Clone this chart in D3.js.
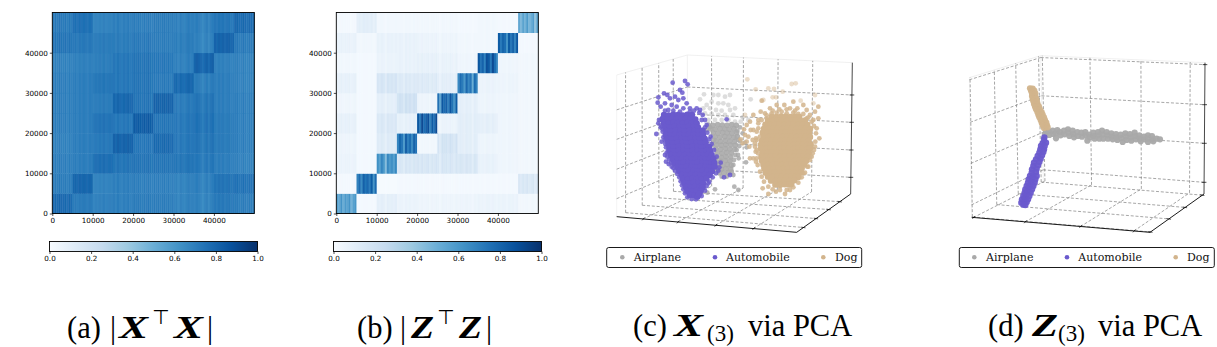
<!DOCTYPE html>
<html>
<head>
<meta charset="utf-8">
<script src="https://cdn.jsdelivr.net/npm/d3@7"></script>
<style>
    html, body { margin: 0; padding: 0; background: #fff; }
    svg { display: block; }
    .axis text { font-family: "DejaVu Sans", sans-serif; font-size: 7.2px; fill: #000; }
    .axis path, .axis line { stroke: #000; stroke-width: 0.7px; }
    .legend text { font-family: "DejaVu Serif", serif; font-size: 11px; fill: #111; }
    .caption text { font-family: "Liberation Serif", serif; font-size: 30.5px; fill: #000; }
</style>
</head>
<body>
<svg id="chart" width="1217" height="347"></svg>
<script>
// ---- data ----
const classes = ["Airplane", "Automobile", "Dog"];
const classColors = ["#a9a9a9", "#6a5acd", "#d2b48c"];
const heatTicks = [0, 10000, 20000, 30000, 40000];
const barTicks = [0, 0.2, 0.4, 0.6, 0.8, 1.0];

// block means, bottom row first, each block = 5000 samples
const matrixX = [
    [.78,.71,.70,.70,.71,.71,.69,.69,.72,.71],
    [.71,.79,.69,.70,.70,.70,.69,.70,.74,.75],
    [.70,.70,.77,.74,.74,.74,.74,.73,.70,.69],
    [.69,.70,.73,.81,.73,.78,.73,.74,.71,.70],
    [.70,.70,.75,.73,.83,.74,.73,.75,.71,.70],
    [.70,.70,.72,.79,.74,.81,.72,.74,.70,.70],
    [.70,.70,.74,.73,.74,.72,.79,.71,.70,.69],
    [.69,.69,.71,.73,.74,.73,.70,.81,.69,.69],
    [.74,.72,.72,.71,.72,.71,.71,.69,.80,.72],
    [.72,.75,.69,.70,.70,.71,.70,.70,.73,.78]
];
const matrixZ = [
    [.56,.02,.09,.06,.05,.05,.05,.06,.06,.03],
    [.02,.74,.01,.02,.02,.02,.02,.02,.02,.15],
    [.06,.02,.60,.15,.16,.16,.15,.07,.04,.03],
    [.05,.02,.12,.73,.03,.18,.10,.05,.04,.03],
    [.08,.02,.14,.08,.80,.06,.10,.09,.04,.03],
    [.04,.02,.09,.19,.05,.77,.09,.05,.04,.03],
    [.08,.02,.16,.13,.13,.10,.70,.06,.05,.03],
    [.03,.02,.06,.07,.08,.07,.04,.80,.04,.03],
    [.07,.03,.07,.07,.06,.05,.03,.03,.76,.02],
    [.02,.10,.03,.03,.03,.03,.02,.03,.02,.52]
];
// column brightness factor, one per 500 samples
const stripesX = [
    .99,1.01,.98,1.02,1.0,.99,1.01,.97,1.01,.98,1.0,1.01,.98,1.01,.99,1.01,1.0,.98,1.01,1.0,
    .96,.98,.97,.99,.97,1.0,.97,.98,.99,.98,1.0,.97,1.01,.98,.97,1.0,.98,1.01,.98,.99,
    1.01,.99,1.01,1.0,.98,1.01,.99,1.02,1.0,.98,1.01,.99,1.01,.98,1.0,1.01,.98,1.01,.97,.99,
    .98,1.0,.95,1.0,.97,.96,.99,1.01,.98,1.0,.98,1.01,.99,.97,.93,.97,1.0,.95,.99,1.01,
    1.0,.98,1.01,.99,1.01,.98,1.0,1.01,.98,.99,1.0,1.01,.98,.98,1.01,.99,.97,1.0,.98,.97
];
const stripesZ = [
    1.0,.94,1.1,.9,1.05,.98,1.1,.85,1.0,1.08,.92,1.04,.88,1.1,1.0,1.06,.95,1.12,.82,1.05,
    1.05,.92,1.12,1.0,.72,1.1,.98,1.06,.94,1.1,.92,1.08,1.0,.8,1.12,.96,1.05,.9,1.1,1.02,
    1.06,.9,1.12,.95,1.02,1.1,.85,1.04,.94,1.12,.98,.7,1.1,1.0,1.06,.9,1.12,.96,.8,1.08,
    .94,1.1,1.02,.86,1.12,.95,1.05,.72,1.1,.98,1.08,.92,1.0,.85,1.1,1.05,.9,1.12,.96,.84,
    1.1,.94,1.05,1.0,.82,1.1,.96,1.06,.9,1.12,1.02,.88,1.06,.94,1.12,.9,.98,1.1,.78,1.05
];

// points (panel units)
const airplaneCFar = [[330,178],[342,163],[370,165],[385,165],[405,170],[420,165],[482,178],[365,185],[385,190],[400,190],[415,195],[350,195],[340,205],[360,205],[378,210],[395,212],[420,210],[435,205],[345,220],[365,222],[385,225],[405,225],[430,225],[458,232],[475,240],[452,245],[355,240],[375,240],[395,240],[415,240],[435,245]];
const airplaneCOut = [[375,448],[433,440],[445,450],[352,458],[430,405],[465,308],[470,322],[444,345],[446,355],[468,367],[450,303],[448,318],[445,300],[440,330],[436,345],[432,360],[430,375],[372,300],[368,315],[425,395],[395,410],[410,410],[350,270],[360,262],[450,262],[458,280],[442,272]];
const airplaneC = [
    [355,255],[369,256],[383,254],[397,255],[411,256],[425,254],[439,256],
    [362,267],[376,268],[390,266],[404,267],[418,268],[432,266],
    [370,279],[384,280],[398,278],[412,279],[426,280],[440,278],
    [376,291],[390,292],[404,290],[418,291],[432,292],[442,290],
    [378,303],[392,304],[406,302],[420,303],[434,304],
    [380,315],[394,316],[408,314],[422,315],[436,316],
    [378,327],[392,328],[406,326],[420,327],[434,328],
    [382,339],[396,340],[410,338],[424,339],
    [380,351],[394,352],[408,350],[422,351],
    [378,363],[392,364],[406,362],[420,363],
    [384,375],[398,376],[412,374],[424,376],
    [380,387],[394,388],[408,386],[422,387],
    [388,399],[402,400],[416,398]
];
const automobileCOut = [[248,128],[285,123],[293,133],[222,160],[232,165],[205,172],[203,188],[212,200],[270,150],[277,158],[255,170],[240,175],[265,180],[280,175],[225,190],[245,195],[290,190],[260,200],[280,205],[300,205],[320,205],[235,210],[225,212],[250,212],[270,215],[300,215],[199,282],[207,240],[205,250],[215,305],[228,365],[245,380],[410,238],[402,412],[420,405],[385,392],[355,430],[330,445],[218,275],[225,345],[236,372],[212,262],[338,225],[350,255],[362,290],
    [216,240],[214,258],[218,268],[220,292],[224,300],[226,312],[228,322],[230,338],[232,350],[238,358],[243,368],[250,384],[255,392],[262,402],[268,412],[272,424],[276,436],[280,448],[285,460],[292,472],[305,477],[318,478],[335,468],[345,452],[350,438],[358,425],[368,412],[378,400],[388,382],[392,368],[380,350],[372,330],[365,312],[358,298],[352,278],[345,262],[335,240],[328,218],[312,212],[345,240],[330,210]];
const automobileC = [
    [222,225],[236,226],[250,224],[264,225],[278,226],[292,224],[306,225],
    [218,237],[232,238],[246,236],[260,237],[274,238],[288,236],[302,237],[316,238],
    [222,249],[236,250],[250,248],[264,249],[278,250],[292,248],[306,249],[320,250],
    [226,261],[240,262],[254,260],[268,261],[282,262],[296,260],[310,261],[324,262],
    [229,273],[243,274],[257,272],[271,273],[285,274],[299,272],[313,273],[327,274],[338,272],
    [227,285],[241,286],[255,284],[269,285],[283,286],[297,284],[311,285],[325,286],[339,284],
    [232,297],[246,298],[260,296],[274,297],[288,298],[302,296],[316,297],[330,298],[344,296],
    [235,309],[249,310],[263,308],[277,309],[291,310],[305,308],[319,309],[333,310],[347,308],
    [238,321],[252,322],[266,320],[280,321],[294,322],[308,320],[322,321],[336,322],[350,320],[357,321],
    [238,333],[252,334],[266,332],[280,333],[294,334],[308,332],[322,333],[336,334],[350,332],[360,333],
    [242,345],[256,346],[270,344],[284,345],[298,346],[312,344],[326,345],[340,346],[354,344],[365,345],
    [248,357],[262,358],[276,356],[290,357],[304,358],[318,356],[332,357],[346,358],[360,356],[370,357],
    [253,369],[267,370],[281,368],[295,369],[309,370],[323,368],[337,369],[351,370],[365,368],[373,369],
    [262,381],[276,382],[290,380],[304,381],[318,382],[332,380],[346,381],[360,382],[374,380],
    [268,393],[282,394],[296,392],[310,393],[324,394],[338,392],[352,393],[366,394],
    [275,405],[289,406],[303,404],[317,405],[331,406],[345,404],[359,405],
    [279,417],[293,418],[307,416],[321,417],[335,418],[349,416],
    [283,429],[297,430],[311,428],[325,429],[339,430],
    [287,441],[301,442],[315,440],[329,441],[338,442],
    [292,453],[306,454],[320,452],[332,453],
    [300,465],[313,466],[322,470],[327,462]
];
const dogCFar = [[472,118],[497,148],[535,145],[552,147],[578,155],[605,132],[617,130],[465,225],[520,180],[548,172],[558,172],[632,182],[675,165],[670,190]];
const dogCOut = [[515,182],[583,195],[610,185],[640,195],[685,200],[675,215],[685,235],[670,240],[512,215],[525,220],[490,225],[505,240],[540,205],[560,195],[600,205],[622,205],[650,210],[660,225],[480,245],[470,255],[462,268],[490,270],[505,265],[475,290],[488,300],[458,310],[510,290],[495,320],[452,298],[490,355],[480,355],[498,365],[518,445],[535,462],[558,455],[585,462],[600,450],[680,265],[688,295],[675,320],[665,350],[655,380],[640,400],[575,215],[590,220],[610,218],[560,218],[545,220],[625,222],[530,235],[500,300],[504,340],[650,235],
    [505,250],[500,275],[498,295],[495,310],[497,335],[500,355],[503,375],[510,395],[515,410],[522,425],[535,440],[548,448],[570,450],[590,450],[610,442],[625,428],[635,412],[645,398],[652,380],[660,360],[668,340],[672,330],[676,305],[678,280],[672,258],[665,245],[655,232],[640,222],[615,212],[590,208],[568,208],[548,212],[530,226],[515,240],[482,270],[465,285],[478,320],[470,305],[500,330]];
const dogC = [
    [545,230],[559,231],[573,229],[587,230],[601,231],[615,229],[628,231],
    [534,242],[548,243],[562,241],[576,242],[590,243],[604,241],[618,242],[632,243],[645,241],
    [526,254],[540,255],[554,253],[568,254],[582,255],[596,253],[610,254],[624,255],[638,253],[652,254],
    [522,266],[536,267],[550,265],[564,266],[578,267],[592,265],[606,266],[620,267],[634,265],[648,266],[660,267],
    [518,278],[532,279],[546,277],[560,278],[574,279],[588,277],[602,278],[616,279],[630,277],[644,278],[658,279],
    [522,290],[536,291],[550,289],[564,290],[578,291],[592,289],[606,290],[620,291],[634,289],[648,290],[660,291],
    [516,302],[530,303],[544,301],[558,302],[572,303],[586,301],[600,302],[614,303],[628,301],[642,302],[656,303],
    [513,314],[527,315],[541,313],[555,314],[569,315],[583,313],[597,314],[611,315],[625,313],[639,314],[653,315],[662,313],
    [513,326],[527,327],[541,325],[555,326],[569,327],[583,325],[597,326],[611,327],[625,325],[639,326],[653,327],[660,325],
    [518,338],[532,339],[546,337],[560,338],[574,339],[588,337],[602,338],[616,339],[630,337],[644,338],[656,339],
    [514,350],[528,351],[542,349],[556,350],[570,351],[584,349],[598,350],[612,351],[626,349],[640,350],[653,351],
    [516,362],[530,363],[544,361],[558,362],[572,363],[586,361],[600,362],[614,363],[628,361],[642,362],[648,363],
    [520,374],[534,375],[548,373],[562,374],[576,375],[590,373],[604,374],[618,375],[632,373],[642,374],
    [523,386],[537,387],[551,385],[565,386],[579,387],[593,385],[607,386],[621,387],[635,385],
    [527,398],[541,399],[555,397],[569,398],[583,399],[597,397],[611,398],[625,399],[632,397],
    [534,410],[548,411],[562,409],[576,410],[590,411],[604,409],[618,410],[625,411],
    [543,422],[557,423],[571,421],[585,422],[599,423],[613,421],
    [556,434],[570,435],[584,433],[598,434],[604,432]
];
const airplaneD = [[288,272],[285,283],[296,274],[298,285],[308,272],[310,282],[318,280],[318,295],[322,270],[330,276],[332,286],[342,272],[344,283],[354,268],[356,278],[358,288],[368,272],[370,282],[372,292],[382,276],[384,288],[394,278],[396,290],[406,276],[408,286],[412,302],[418,284],[420,292],[430,278],[432,288],[434,296],[444,276],[446,286],[448,296],[456,272],[458,284],[460,296],[470,276],[472,286],[474,296],[484,280],[486,290],[488,298],[498,282],[500,292],[502,300],[512,284],[514,294],[518,306],[526,280],[528,290],[530,300],[540,282],[542,292],[544,302],[554,278],[556,288],[558,298],[568,286],[570,296],[572,304],[582,290],[584,298],[594,286],[596,296],[594,306],[606,288],[608,298],[610,304],[620,296],[630,298]];
const automobileD = [[283,292],[282,300],[278,310],[288,308],[273,318],[284,318],[271,328],[282,328],[268,338],[280,336],[263,348],[276,346],[258,358],[272,356],[252,368],[268,366],[250,378],[264,376],[246,388],[260,386],[245,398],[258,396],[240,408],[250,406],[260,408],[236,418],[247,416],[256,418],[234,428],[244,426],[254,428],[230,438],[240,436],[250,438],[226,448],[236,446],[246,448],[224,458],[232,456],[242,458],[220,468],[228,466],[238,468],[216,478],[224,476],[234,478],[214,488],[222,488],[230,486],[220,494],[226,495]];
const dogD = [[240,145],[248,146],[243,152],[253,152],[246,160],[256,160],[246,168],[256,168],[248,176],[259,176],[250,184],[261,184],[252,192],[263,192],[255,200],[267,200],[258,208],[270,208],[262,216],[275,216],[265,224],[278,224],[268,232],[282,232],[272,240],[285,240],[275,248],[289,248],[278,256],[291,256],[282,264],[293,262]];

// ---- drawing ----
const svg = d3.select("#chart");
const blues = d3.scaleSequential(d3.piecewise(d3.interpolateRgb, d3.schemeBlues[9])).domain([0, 1]);

const defs = svg.append("defs");
// one gradient, both colorbars use it
const grad = defs.append("linearGradient").attr("id", "bluesGrad");
d3.range(0, 1.01, 0.125).forEach(function (t) {
    grad.append("stop").attr("offset", t).attr("stop-color", blues(t));
});
// the source picture is a soft raster, take the edge off the cells
defs.append("filter").attr("id", "soft")
    .attr("x", 0).attr("y", 0).attr("width", 1).attr("height", 1)
    .append("feGaussianBlur").attr("stdDeviation", 0.5);

function drawHeatmap(matrix, stripes, left, right, barLeft, barRight) {
    let top = 12.5, bottom = 213.5;
    let x = d3.scaleLinear().domain([0, 50000]).range([left, right]);
    let y = d3.scaleLinear().domain([0, 50000]).range([bottom, top]);
    let g = svg.append("g");
    let cells = g.append("g").attr("filter", "url(#soft)");

    matrix.forEach(function (row, r) {
        stripes.forEach(function (s, c) {
            let block = Math.floor(c / 10);
            cells.append("rect")
                .attr("x", x(c * 500))
                .attr("y", y((r + 1) * 5000))
                .attr("width", x(500) - x(0) + 0.4)
                .attr("height", y(0) - y(5000) + 0.4)
                .attr("fill", blues(Math.min(1, row[block] * s)));
        });
    });

    g.append("rect")
        .attr("x", left).attr("y", top)
        .attr("width", right - left).attr("height", bottom - top)
        .attr("fill", "none").attr("stroke", "#000").attr("stroke-width", 0.9);

    g.append("g").attr("class", "axis")
        .attr("transform", `translate(0,${bottom})`)
        .call(d3.axisBottom(x).tickValues(heatTicks).tickFormat(d3.format("d")).tickSize(2.5).tickPadding(2).tickSizeOuter(0))
        .select(".domain").remove();
    g.append("g").attr("class", "axis")
        .attr("transform", `translate(${left},0)`)
        .call(d3.axisLeft(y).tickValues(heatTicks).tickFormat(d3.format("d")).tickSize(2.5).tickPadding(2).tickSizeOuter(0))
        .select(".domain").remove();

    // colorbar
    let barX = d3.scaleLinear().domain([0, 1]).range([barLeft, barRight]);
    g.append("rect")
        .attr("x", barLeft).attr("y", 241.5)
        .attr("width", barRight - barLeft).attr("height", 10)
        .attr("fill", "url(#bluesGrad)")
        .attr("stroke", "#000").attr("stroke-width", 0.9);
    g.append("g").attr("class", "axis")
        .attr("transform", "translate(0,251.5)")
        .call(d3.axisBottom(barX).tickValues(barTicks).tickFormat(d3.format(".1f")).tickSize(2.5).tickPadding(2).tickSizeOuter(0))
        .select(".domain").remove();
}

// trilinear box, close enough to the mplot3d perspective
function boxProjector(c) {
    return function (u, v, w) {
        let lerp = function (a, b, t) { return [a[0] + (b[0] - a[0]) * t, a[1] + (b[1] - a[1]) * t]; };
        let bottom = lerp(lerp(c.fbl, c.fbr, u), lerp(c.bbl, c.bbr, u), v);
        let top = lerp(lerp(c.tfl, c.tfr, u), lerp(c.btl, c.btr, u), v);
        return lerp(bottom, top, w);
    };
}

function drawScatter(offsetX, offsetY, corners, ticks, layers, legendBox, legendItems) {
    let px = d3.scaleLinear().domain([0, 900]).range([offsetX, offsetX + 300]);
    let py = d3.scaleLinear().domain([0, 720]).range([offsetY, offsetY + 240]);
    let project = boxProjector(corners);
    let g = svg.append("g");
    let seg = function (a, b, color, width, dash) {
        g.append("line")
            .attr("x1", px(a[0])).attr("y1", py(a[1]))
            .attr("x2", px(b[0])).attr("y2", py(b[1]))
            .attr("stroke", color).attr("stroke-width", width)
            .attr("stroke-dasharray", dash || null);
    };

    // pane outlines, very faint
    seg(project(0, 0, 1), project(0, 1, 1), "#ececec", 0.8);
    seg(project(0, 1, 1), project(1, 1, 1), "#ececec", 0.8);
    seg(project(0, 1, 0), project(0, 1, 1), "#eeeeee", 0.8);
    seg(project(0, 0, 0), project(0, 0, 1), "#f2f2f2", 0.8);

    // grid
    let grid = "#7f7f7f", dash = "3,1.8";
    ticks.u.forEach(function (t) {
        seg(project(t, 0, 0), project(t, 1, 0), grid, 0.7, dash);
        seg(project(t, 1, 0), project(t, 1, 1), grid, 0.7, dash);
    });
    ticks.v.forEach(function (t) {
        seg(project(0, t, 0), project(1, t, 0), grid, 0.7, dash);
        seg(project(0, t, 0), project(0, t, 1), grid, 0.7, dash);
    });
    ticks.w.forEach(function (t) {
        seg(project(0, 0, t), project(0, 1, t), grid, 0.7, dash);
        seg(project(0, 1, t), project(1, 1, t), grid, 0.7, dash);
    });

    // black axes and tick marks
    seg(project(0, 0, 0), project(1, 0, 0), "#000", 0.9);
    seg(project(1, 0, 0), project(1, 1, 0), "#000", 0.9);
    seg(project(1, 1, 0), project(1, 1, 1), "#333", 0.9);
    ticks.u.forEach(function (t) {
        let p = project(t, 0, 0);
        seg([p[0] + 4, p[1] - 4], [p[0] - 3, p[1] + 4], "#000", 0.7);
    });
    ticks.v.forEach(function (t) {
        let p = project(1, t, 0);
        seg([p[0] - 7, p[1] - 1], [p[0] + 6, p[1] + 1], "#000", 0.7);
    });
    ticks.w.forEach(function (t) {
        let p = project(1, 1, t);
        seg([p[0] - 7, p[1]], [p[0] + 7, p[1]], "#000", 0.7);
    });

    // points
    layers.forEach(function (layer) {
        g.append("g").selectAll("circle")
            .data(layer.points)
            .join("circle")
            .attr("cx", function (d) { return px(d[0]); })
            .attr("cy", function (d) { return py(d[1]); })
            .attr("r", layer.r)
            .attr("fill", classColors[layer.cls])
            .attr("opacity", layer.opacity);
    });

    // legend
    let lg = svg.append("g").attr("class", "legend");
    lg.append("rect")
        .attr("x", legendBox[0]).attr("y", 247.5)
        .attr("width", legendBox[1] - legendBox[0]).attr("height", 20)
        .attr("rx", 2).attr("fill", "#fff")
        .attr("stroke", "#000").attr("stroke-width", 0.9);
    classes.forEach(function (name, i) {
        lg.append("circle")
            .attr("cx", legendItems[i][0]).attr("cy", 257.2)
            .attr("r", 2.3).attr("fill", classColors[i]);
        lg.append("text")
            .attr("x", legendItems[i][1]).attr("y", 260.8)
            .text(name);
    });
}

drawHeatmap(matrixX, stripesX, 52.3, 254.3, 49.5, 257.5);
drawHeatmap(matrixZ, stripesZ, 336.3, 538.3, 333.5, 541.5);

drawScatter(590, 40,
    { fbl: [80, 530], fbr: [620, 577], bbl: [293, 435], bbr: [782, 462], tfl: [80, 105], tfr: [610, 125], btl: [292, 45], btr: [787, 68] },
    { u: [.147, .34, .55, .76], v: [.126, .36, .595, .80], w: [.127, .335, .546, .754] },
    [
        { points: airplaneCFar, cls: 0, r: 2.4, opacity: 0.4 },
        { points: airplaneC, cls: 0, r: 2.8, opacity: 0.9 },
        { points: airplaneCOut, cls: 0, r: 2.4, opacity: 0.85 },
        { points: automobileCOut, cls: 1, r: 2.4, opacity: 0.85 },
        { points: automobileC, cls: 1, r: 3.2, opacity: 1 },
        { points: dogCFar, cls: 2, r: 2.4, opacity: 0.45 },
        { points: dogCOut, cls: 2, r: 2.4, opacity: 0.85 },
        { points: dogC, cls: 2, r: 3.2, opacity: 1 }
    ],
    [606.7, 861.7],
    [[622.3, 633.7], [715, 726], [823.3, 835]]);

drawScatter(950, 40,
    { fbl: [65, 532], fbr: [600, 577], bbl: [280, 423], bbr: [762, 462], tfl: [58, 113], tfr: [590, 130], btl: [272, 47], btr: [765, 68] },
    { u: [.01, .30, .61, .91], v: [.01, .35, .65, .97], w: [.089, .386, .68, .985] },
    [
        { points: airplaneD, cls: 0, r: 3.1, opacity: 0.95 },
        { points: automobileD, cls: 1, r: 3.2, opacity: 0.95 },
        { points: dogD, cls: 2, r: 3.1, opacity: 0.95 }
    ],
    [959.3, 1214.3],
    [[974.3, 986], [1067, 1078.3], [1175.7, 1187]]);

// captions, placed piece by piece since the math glyphs don't sit on one run of text
const cap = svg.append("g").attr("class", "caption");
function piece(x, y, str, opts) {
    opts = opts || {};
    let t = cap.append("text").attr("x", x).attr("y", y).text(str);
    if (opts.math) {
        t.style("font-weight", "bold").style("font-style", "italic")
            .attr("textLength", opts.math).attr("lengthAdjust", "spacingAndGlyphs");
    }
    if (opts.size) { t.style("font-size", opts.size + "px"); }
    if (opts.sans) { t.style("font-family", "'DejaVu Sans', sans-serif"); }
    return t;
}
const baseAB = 338, baseCD = 336;
piece(67, baseAB, "(a)");
piece(110, baseAB, "|");
piece(119, baseAB, "X", { math: 29 });
piece(152, 323.5, "⊤", { size: 20, sans: true });
piece(174, baseAB, "X", { math: 29 });
piece(207, baseAB, "|");

piece(357, baseAB, "(b)");
piece(400, baseAB, "|");
piece(411, baseAB, "Z", { math: 23 });
piece(437, 323.5, "⊤", { size: 20, sans: true });
piece(459, baseAB, "Z", { math: 23 });
piece(486, baseAB, "|");

piece(633, baseCD, "(c)");
piece(674, baseCD, "X", { math: 29 });
piece(707, 341, "(3)", { size: 23 });
piece(748, baseCD, "via PCA");

piece(988, baseCD, "(d)");
piece(1032, baseCD, "Z", { math: 26 });
piece(1058, 341, "(3)", { size: 23 });
piece(1098, baseCD, "via PCA");
</script>
</body>
</html>
